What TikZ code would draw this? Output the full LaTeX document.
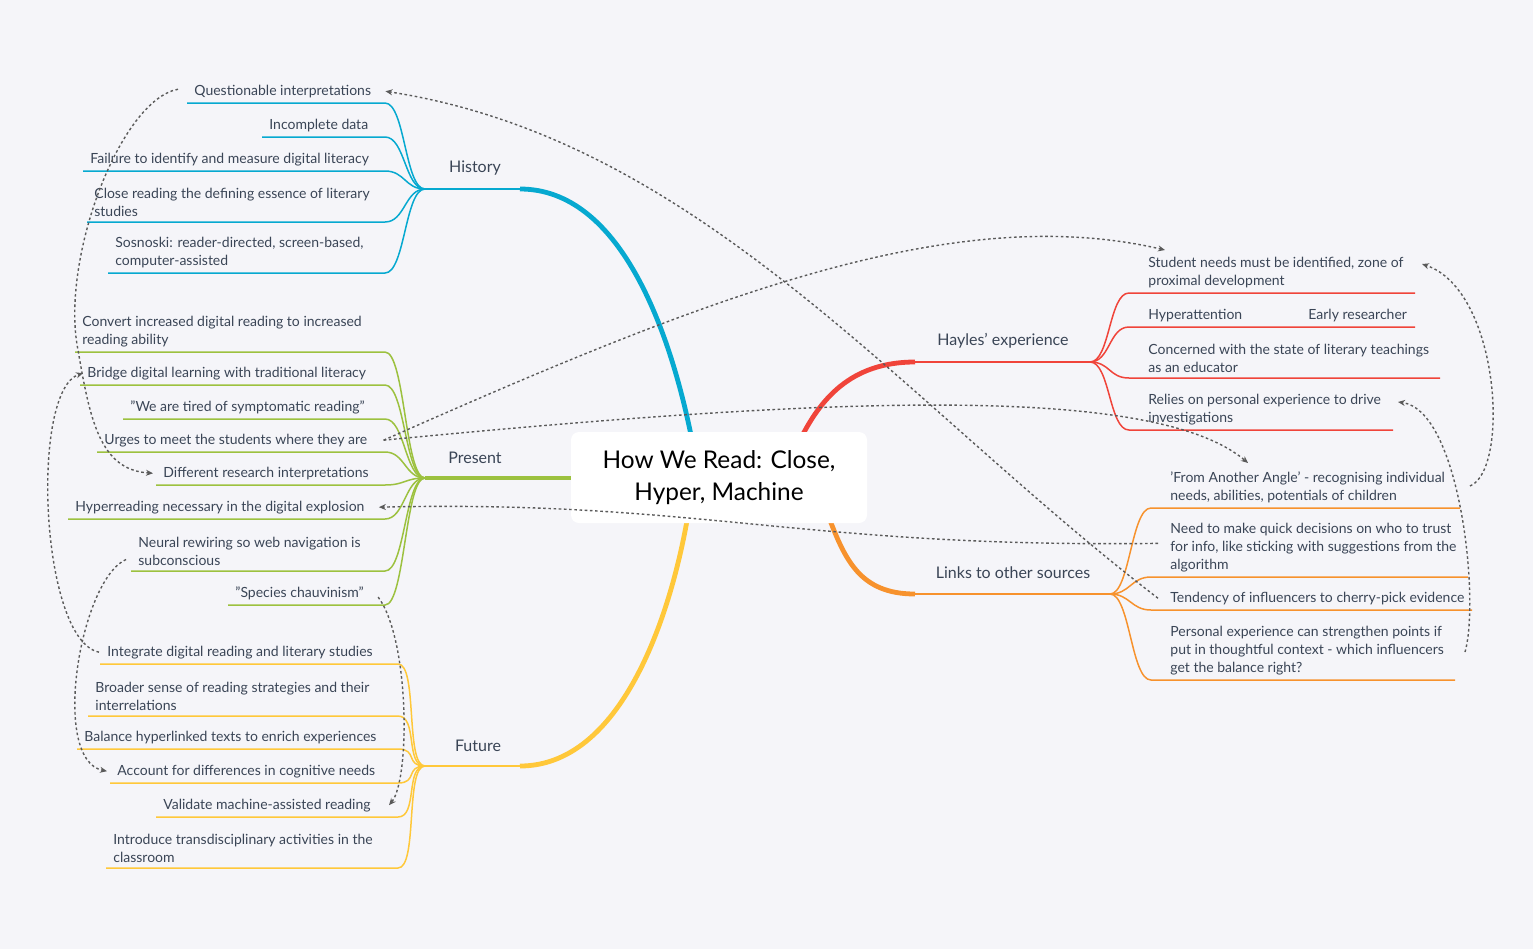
\documentclass[tikz,border=0pt]{standalone}
\usepackage{fontspec}
\setmainfont{Lato}
\usetikzlibrary{arrows.meta}
\definecolor{bg}{HTML}{F5F5F9}
\definecolor{txt}{HTML}{3A4556}
\definecolor{cB}{HTML}{06A9D0}
\definecolor{cG}{HTML}{9CC13F}
\definecolor{cY}{HTML}{FFC83A}
\definecolor{cR}{HTML}{F0443A}
\definecolor{cO}{HTML}{F7922D}
\definecolor{dg}{HTML}{5A5A5A}
\tikzset{
 lt/.style={text=txt,font=\fontsize{7}{8.9}\selectfont,align=left,inner sep=0pt},
 hub/.style={text=txt,font=\fontsize{8}{9}\selectfont,inner sep=0pt},
 leaf/.style={line width=0.75pt},
 main/.style={line width=2.4pt},
 lnk/.style={dg,line width=0.7pt,dash pattern=on 1.3pt off 1.3pt,-{Stealth[length=3.5pt,width=3pt]}},
}
\newcommand\lleaf[8]{\draw[#2,leaf] (#6,#7) .. controls (#6-20,#7) and (#5+20,#4) .. (#5,#4) -- (#3,#4);
 \node[lt,anchor=south west] (#1) at (#3+7,#4-5) {#8};}
\newcommand\rleaf[8]{\draw[#2,leaf] (#6,#7) .. controls (#6+20,#7) and (#3-20,#4) .. (#3,#4) -- (#5,#4);
 \node[lt,anchor=south west] (#1) at (#3+19,#4-5) {#8};}
\begin{document}
\begin{tikzpicture}[x=0.5pt,y=-0.5pt]
\fill[bg] (0,0) rectangle (1533,949);
\useasboundingbox (0,0) rectangle (1533,949);
% main branches
\draw[cB,main] (520,189) .. controls (620,189) and (670,330) .. (692,440);
\draw[cY,main] (520,766) .. controls (620,766) and (670,620) .. (688,515);
\draw[cR,main] (915,362) .. controls (850,362) and (820,400) .. (800,440);
\draw[cO,main] (915,594) .. controls (860,594) and (845,560) .. (828,515);
\draw[cG,main,line width=1.6pt] (425,478) -- (575,478);
\node[fill=white,rounded corners=4pt,minimum width=148pt,minimum height=45.5pt,align=center,font=\fontsize{12.2}{16}\selectfont,text=black] (c) at (719,477.5) {How We Read: Close,\\Hyper, Machine};
% hubs
\draw[cB,leaf,line width=1pt] (425,189) -- (520,189);
\node[hub] (hist) at (475,168) {History};
\node[hub] (pres) at (475,458) {Present};
\draw[cY,leaf,line width=1pt] (425,766) -- (520,766);
\node[hub] (fut) at (478,746) {Future};
\draw[cR,leaf,line width=1pt] (915,362) -- (1090,362);
\node[hub] (hay) at (1003,341) {Hayles' experience};
\draw[cO,leaf,line width=1pt] (915,594) -- (1110,594);
\node[hub] (lnkh) at (1013,573) {Links to other sources};
% history
\lleaf{h1}{cB}{187}{103}{385}{425}{189}{Questionable interpretations}
\lleaf{h2}{cB}{262}{137}{385}{425}{189}{Incomplete data}
\lleaf{h3}{cB}{83}{171}{385}{425}{189}{Failure to identify and measure digital literacy}
\lleaf{h4}{cB}{87}{222}{385}{425}{189}{Close reading the defining essence of literary\\studies}
\lleaf{h5}{cB}{108}{273}{385}{425}{189}{Sosnoski: reader-directed, screen-based,\\computer-assisted}
% present
\lleaf{p1}{cG}{75}{352}{385}{425}{478}{Convert increased digital reading to increased\\reading ability}
\lleaf{p2}{cG}{80}{385}{385}{425}{478}{Bridge digital learning with traditional literacy}
\lleaf{p3}{cG}{123}{419}{385}{425}{478}{"We are tired of symptomatic reading"}
\lleaf{p4}{cG}{97}{452}{385}{425}{478}{Urges to meet the students where they are}
\lleaf{p5}{cG}{156}{485}{385}{425}{478}{Different research interpretations}
\lleaf{p6}{cG}{68}{519}{385}{425}{478}{Hyperreading necessary in the digital explosion}
\lleaf{p7}{cG}{131}{571}{385}{425}{478}{Neural rewiring so web navigation is\\subconscious}
\lleaf{p8}{cG}{228}{605}{385}{425}{478}{"Species chauvinism"}
% future
\lleaf{f1}{cY}{100}{664}{398}{425}{766}{Integrate digital reading and literary studies}
\lleaf{f2}{cY}{88}{716}{398}{425}{766}{Broader sense of reading strategies and their\\interrelations}
\lleaf{f3}{cY}{77}{749}{398}{425}{766}{Balance hyperlinked texts to enrich experiences}
\lleaf{f4}{cY}{110}{783}{398}{425}{766}{Account for differences in cognitive needs}
\lleaf{f5}{cY}{156}{817}{398}{425}{766}{Validate machine-assisted reading}
\lleaf{f6}{cY}{106}{868}{398}{425}{766}{Introduce transdisciplinary activities in the\\classroom}
% hayles
\rleaf{r1}{cR}{1129}{293}{1415}{1090}{362}{Student needs must be identified, zone of\\proximal development}
\rleaf{r2}{cR}{1129}{327}{1415}{1090}{362}{Hyperattention}
\node[lt,anchor=south west] (r2b) at (1308,322) {Early researcher};
\rleaf{r3}{cR}{1129}{378}{1440}{1090}{362}{Concerned with the state of literary teachings\\as an educator}
\rleaf{r4}{cR}{1129}{430}{1393}{1090}{362}{Relies on personal experience to drive\\investigations}
% links
\rleaf{o1}{cO}{1151}{508}{1460}{1110}{594}{'From Another Angle' - recognising individual\\needs, abilities, potentials of children}
\rleaf{o2}{cO}{1151}{577}{1468}{1110}{594}{Need to make quick decisions on who to trust\\for info, like sticking with suggestions from the\\algorithm}
\rleaf{o3}{cO}{1151}{610}{1472}{1110}{594}{Tendency of influencers to cherry-pick evidence}
\rleaf{o4}{cO}{1151}{680}{1455}{1110}{594}{Personal experience can strengthen points if\\put in thoughtful context - which influencers\\get the balance right?}
% dotted links
\draw[lnk] ([xshift=-8pt,yshift=1pt]h1.west) .. controls (120,100) and (60,260) .. (78,350) .. controls (90,420) and (100,470) .. ([xshift=-5pt]p5.west);
\draw[lnk] ([xshift=-6pt]o3.west) .. controls (900,400) and (700,140) .. ([xshift=7pt]h1.east);
\draw[lnk] ([xshift=8pt]p4.east) .. controls (700,300) and (950,200) .. (1165,250);
\draw[lnk] ([xshift=8pt]p4.east) .. controls (800,400) and (1150,380) .. (1248,463);
\draw[lnk] ([xshift=-6pt,yshift=2pt]o2.west) .. controls (800,548) and (700,500) .. ([xshift=7pt]p6.east);
\draw[lnk] ([xshift=-4pt]f1.west) .. controls (40,640) and (30,390) .. ([xshift=-2pt]p2.west);
\draw[lnk] ([xshift=-6pt,yshift=-4pt]p7.west) .. controls (80,580) and (50,760) .. ([xshift=-5pt]f4.west);
\draw[lnk] ([xshift=7pt,yshift=-2pt]p8.east) .. controls (410,640) and (410,780) .. ([xshift=9pt]f5.east);
\draw[lnk] (1470,486) .. controls (1510,470) and (1500,290) .. (1422,264);
\draw[lnk] (1465,652) .. controls (1480,600) and (1460,410) .. (1398,402);
\end{tikzpicture}
\end{document}
